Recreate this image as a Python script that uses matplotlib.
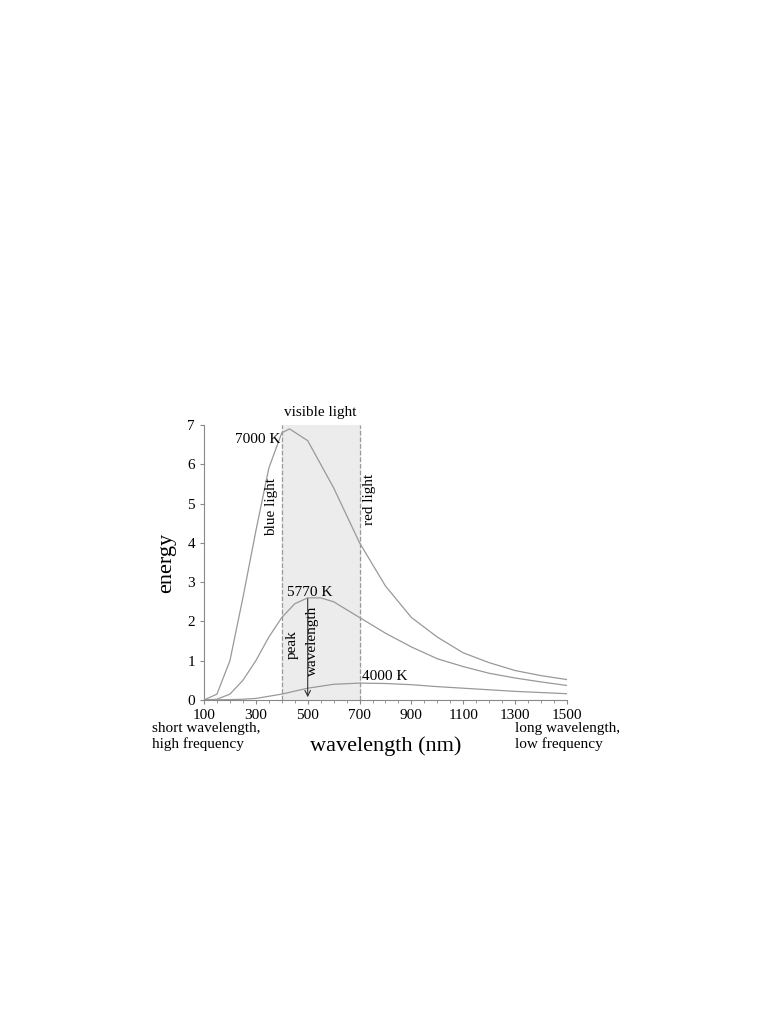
import matplotlib
matplotlib.use("Agg")
import matplotlib.pyplot as plt

plt.rcParams['font.family'] = ['Liberation Serif', 'DejaVu Serif']

wl_7000 = [100, 150, 200, 250, 300, 350, 400, 430, 500, 600, 700, 800, 900, 1000, 1100, 1200, 1300, 1400, 1500]
e_7000 = [0, 0.15, 1.0, 2.6, 4.3, 5.9, 6.8, 6.9, 6.6, 5.4, 4.0, 2.9, 2.1, 1.6, 1.2, 0.95, 0.75, 0.62, 0.52]
wl_5770 = [100, 150, 200, 250, 300, 350, 400, 450, 500, 550, 600, 700, 800, 900, 1000, 1100, 1200, 1300, 1400, 1500]
e_5770 = [0, 0.02, 0.15, 0.5, 1.0, 1.6, 2.1, 2.45, 2.6, 2.6, 2.5, 2.1, 1.7, 1.35, 1.05, 0.85, 0.68, 0.56, 0.46, 0.37]
wl_4000 = [100, 200, 250, 300, 400, 500, 600, 700, 800, 900, 1000, 1100, 1200, 1300, 1400, 1500]
e_4000 = [0, 0.01, 0.02, 0.04, 0.15, 0.3, 0.4, 0.43, 0.42, 0.39, 0.34, 0.3, 0.26, 0.22, 0.19, 0.16]
xticks = [100, 300, 500, 700, 900, 1100, 1300, 1500]
yticks = [0, 1, 2, 3, 4, 5, 6, 7]

fig = plt.figure(figsize=(7.68, 10.24), dpi=100)
ax = fig.add_axes([0.2656, 0.3164, 0.4727, 0.2686])

ax.axvspan(400, 700, color='#ececec', zorder=0)
ax.axvline(400, color='#999999', ls='--', lw=0.9)
ax.axvline(700, color='#999999', ls='--', lw=0.9)
for wl, e in [(wl_7000, e_7000), (wl_5770, e_5770), (wl_4000, e_4000)]:
    ax.plot(wl, e, color='#999999', lw=0.9)

ax.set_xlim(100, 1500)
ax.set_ylim(0, 7)
ax.set_xticks(xticks)
ax.set_yticks(yticks)
ax.set_xticks(range(100, 1501, 50), minor=True)
ax.tick_params(labelsize=11, length=3, color='#888888')
ax.tick_params(which='minor', length=2, color='#888888')
for s in ['top', 'right']:
    ax.spines[s].set_visible(False)
for s in ['left', 'bottom']:
    ax.spines[s].set_color('#888888')
    ax.spines[s].set_linewidth(0.8)

ax.set_ylabel('energy', fontsize=16, labelpad=8)
ax.set_xlabel('wavelength (nm)', fontsize=16, labelpad=10)

ax.text(550, 7.15, 'visible light', ha='center', va='bottom', fontsize=11)
ax.text(220, 6.55, '7000 K', fontsize=11)
ax.text(420, 2.65, '5770 K', fontsize=11)
ax.text(710, 0.5, '4000 K', fontsize=11)
ax.text(360, 4.9, 'blue light', rotation=90, ha='center', va='center', fontsize=11)
ax.text(740, 5.1, 'red light', rotation=90, ha='center', va='center', fontsize=11)
ax.text(440, 1.4, 'peak', rotation=90, ha='center', va='center', fontsize=11)
ax.text(518, 1.5, 'wavelength', rotation=90, ha='center', va='center', fontsize=11)
ax.annotate('', xy=(500, 0), xytext=(500, 2.65),
            arrowprops=dict(arrowstyle='->', color='#333333', lw=0.8))

ax.text(-100, -0.55, 'short wavelength,\nhigh frequency', ha='left', va='top', fontsize=11)
ax.text(1300, -0.55, 'long wavelength,\nlow frequency', ha='left', va='top', fontsize=11)

fig.savefig('out.png', dpi=100)
